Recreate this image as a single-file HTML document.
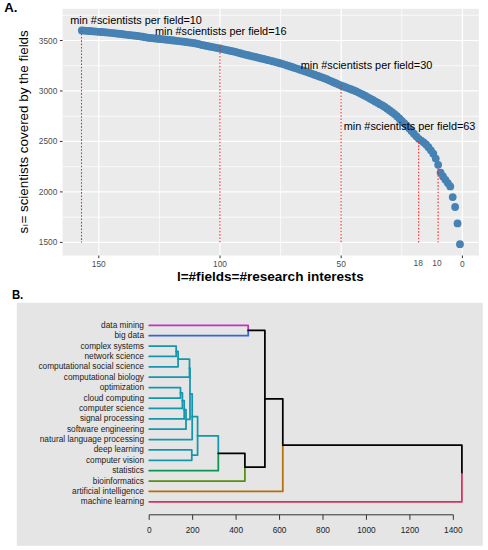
<!DOCTYPE html><html><head><meta charset="utf-8"><style>html,body{margin:0;padding:0;background:#fff;}svg{display:block;}text{font-family:"Liberation Sans",sans-serif;}</style></head><body>
<svg width="488" height="550" viewBox="0 0 488 550">
<rect width="488" height="550" fill="#fff"/>
<rect x="62.6" y="8.8" width="416.29999999999995" height="246.7" fill="#EBEBEB"/>
<line x1="62.6" x2="478.9" y1="15.26" y2="15.26" stroke="#fff" stroke-width="0.75"/>
<line x1="62.6" x2="478.9" y1="65.74" y2="65.74" stroke="#fff" stroke-width="0.75"/>
<line x1="62.6" x2="478.9" y1="116.21" y2="116.21" stroke="#fff" stroke-width="0.75"/>
<line x1="62.6" x2="478.9" y1="166.69" y2="166.69" stroke="#fff" stroke-width="0.75"/>
<line x1="62.6" x2="478.9" y1="217.16" y2="217.16" stroke="#fff" stroke-width="0.75"/>
<line x1="159.40" x2="159.40" y1="8.8" y2="255.5" stroke="#fff" stroke-width="0.75"/>
<line x1="280.60" x2="280.60" y1="8.8" y2="255.5" stroke="#fff" stroke-width="0.75"/>
<line x1="401.80" x2="401.80" y1="8.8" y2="255.5" stroke="#fff" stroke-width="0.75"/>
<line x1="62.6" x2="478.9" y1="40.50" y2="40.50" stroke="#fff" stroke-width="1.2"/>
<line x1="62.6" x2="478.9" y1="90.97" y2="90.97" stroke="#fff" stroke-width="1.2"/>
<line x1="62.6" x2="478.9" y1="141.45" y2="141.45" stroke="#fff" stroke-width="1.2"/>
<line x1="62.6" x2="478.9" y1="191.92" y2="191.92" stroke="#fff" stroke-width="1.2"/>
<line x1="62.6" x2="478.9" y1="242.40" y2="242.40" stroke="#fff" stroke-width="1.2"/>
<line x1="98.80" x2="98.80" y1="8.8" y2="255.5" stroke="#fff" stroke-width="1.2"/>
<line x1="220.00" x2="220.00" y1="8.8" y2="255.5" stroke="#fff" stroke-width="1.2"/>
<line x1="341.20" x2="341.20" y1="8.8" y2="255.5" stroke="#fff" stroke-width="1.2"/>
<line x1="462.40" x2="462.40" y1="8.8" y2="255.5" stroke="#fff" stroke-width="1.2"/>
<g fill="#4682B4">
<circle cx="459.98" cy="244.20" r="3.9"/>
<circle cx="457.55" cy="223.40" r="3.9"/>
<circle cx="455.13" cy="207.00" r="3.9"/>
<circle cx="452.70" cy="197.10" r="3.9"/>
<circle cx="450.28" cy="186.40" r="3.9"/>
<circle cx="447.86" cy="183.10" r="3.9"/>
<circle cx="445.43" cy="179.80" r="3.9"/>
<circle cx="443.01" cy="176.50" r="3.9"/>
<circle cx="440.58" cy="172.60" r="3.9"/>
<circle cx="438.16" cy="164.80" r="3.9"/>
<circle cx="435.74" cy="158.60" r="3.9"/>
<circle cx="433.31" cy="153.77" r="3.9"/>
<circle cx="430.89" cy="150.28" r="3.9"/>
<circle cx="428.46" cy="147.25" r="3.9"/>
<circle cx="426.04" cy="144.49" r="3.9"/>
<circle cx="423.62" cy="142.31" r="3.9"/>
<circle cx="421.19" cy="140.59" r="3.9"/>
<circle cx="418.77" cy="138.86" r="3.9"/>
<circle cx="416.34" cy="136.33" r="3.9"/>
<circle cx="413.92" cy="133.65" r="3.9"/>
<circle cx="411.50" cy="130.97" r="3.9"/>
<circle cx="409.07" cy="128.30" r="3.9"/>
<circle cx="406.65" cy="125.62" r="3.9"/>
<circle cx="404.22" cy="123.07" r="3.9"/>
<circle cx="401.80" cy="120.79" r="3.9"/>
<circle cx="399.38" cy="118.51" r="3.9"/>
<circle cx="396.95" cy="116.23" r="3.9"/>
<circle cx="394.53" cy="114.05" r="3.9"/>
<circle cx="392.10" cy="112.26" r="3.9"/>
<circle cx="389.68" cy="110.46" r="3.9"/>
<circle cx="387.26" cy="108.67" r="3.9"/>
<circle cx="384.83" cy="106.90" r="3.9"/>
<circle cx="382.41" cy="105.52" r="3.9"/>
<circle cx="379.98" cy="104.14" r="3.9"/>
<circle cx="377.56" cy="102.76" r="3.9"/>
<circle cx="375.14" cy="101.38" r="3.9"/>
<circle cx="372.71" cy="100.02" r="3.9"/>
<circle cx="370.29" cy="98.66" r="3.9"/>
<circle cx="367.86" cy="97.30" r="3.9"/>
<circle cx="365.44" cy="95.95" r="3.9"/>
<circle cx="363.02" cy="94.73" r="3.9"/>
<circle cx="360.59" cy="93.54" r="3.9"/>
<circle cx="358.17" cy="92.35" r="3.9"/>
<circle cx="355.74" cy="91.16" r="3.9"/>
<circle cx="353.32" cy="90.16" r="3.9"/>
<circle cx="350.90" cy="89.25" r="3.9"/>
<circle cx="348.47" cy="88.33" r="3.9"/>
<circle cx="346.05" cy="87.41" r="3.9"/>
<circle cx="343.62" cy="86.49" r="3.9"/>
<circle cx="341.20" cy="85.58" r="3.9"/>
<circle cx="338.78" cy="84.53" r="3.9"/>
<circle cx="336.35" cy="83.47" r="3.9"/>
<circle cx="333.93" cy="82.41" r="3.9"/>
<circle cx="331.50" cy="81.35" r="3.9"/>
<circle cx="329.08" cy="80.28" r="3.9"/>
<circle cx="326.66" cy="79.22" r="3.9"/>
<circle cx="324.23" cy="78.22" r="3.9"/>
<circle cx="321.81" cy="77.35" r="3.9"/>
<circle cx="319.38" cy="76.48" r="3.9"/>
<circle cx="316.96" cy="75.61" r="3.9"/>
<circle cx="314.54" cy="74.73" r="3.9"/>
<circle cx="312.11" cy="73.86" r="3.9"/>
<circle cx="309.69" cy="72.99" r="3.9"/>
<circle cx="307.26" cy="72.12" r="3.9"/>
<circle cx="304.84" cy="71.25" r="3.9"/>
<circle cx="302.42" cy="70.45" r="3.9"/>
<circle cx="299.99" cy="69.65" r="3.9"/>
<circle cx="297.57" cy="68.85" r="3.9"/>
<circle cx="295.14" cy="68.05" r="3.9"/>
<circle cx="292.72" cy="67.25" r="3.9"/>
<circle cx="290.30" cy="66.45" r="3.9"/>
<circle cx="287.87" cy="65.65" r="3.9"/>
<circle cx="285.45" cy="64.85" r="3.9"/>
<circle cx="283.02" cy="64.11" r="3.9"/>
<circle cx="280.60" cy="63.38" r="3.9"/>
<circle cx="278.18" cy="62.73" r="3.9"/>
<circle cx="275.75" cy="62.10" r="3.9"/>
<circle cx="273.33" cy="61.47" r="3.9"/>
<circle cx="270.90" cy="60.84" r="3.9"/>
<circle cx="268.48" cy="60.20" r="3.9"/>
<circle cx="266.06" cy="59.57" r="3.9"/>
<circle cx="263.63" cy="58.97" r="3.9"/>
<circle cx="261.21" cy="58.39" r="3.9"/>
<circle cx="258.78" cy="57.81" r="3.9"/>
<circle cx="256.36" cy="57.23" r="3.9"/>
<circle cx="253.94" cy="56.64" r="3.9"/>
<circle cx="251.51" cy="56.06" r="3.9"/>
<circle cx="249.09" cy="55.48" r="3.9"/>
<circle cx="246.66" cy="54.90" r="3.9"/>
<circle cx="244.24" cy="54.29" r="3.9"/>
<circle cx="241.82" cy="53.64" r="3.9"/>
<circle cx="239.39" cy="52.99" r="3.9"/>
<circle cx="236.97" cy="52.33" r="3.9"/>
<circle cx="234.54" cy="51.70" r="3.9"/>
<circle cx="232.12" cy="51.17" r="3.9"/>
<circle cx="229.70" cy="50.63" r="3.9"/>
<circle cx="227.27" cy="50.10" r="3.9"/>
<circle cx="224.85" cy="49.57" r="3.9"/>
<circle cx="222.42" cy="49.03" r="3.9"/>
<circle cx="220.00" cy="48.50" r="3.9"/>
<circle cx="217.58" cy="48.03" r="3.9"/>
<circle cx="215.15" cy="47.56" r="3.9"/>
<circle cx="212.73" cy="47.09" r="3.9"/>
<circle cx="210.30" cy="46.63" r="3.9"/>
<circle cx="207.88" cy="46.16" r="3.9"/>
<circle cx="205.46" cy="45.69" r="3.9"/>
<circle cx="203.03" cy="45.13" r="3.9"/>
<circle cx="200.61" cy="44.55" r="3.9"/>
<circle cx="198.18" cy="43.96" r="3.9"/>
<circle cx="195.76" cy="43.38" r="3.9"/>
<circle cx="193.34" cy="42.98" r="3.9"/>
<circle cx="190.91" cy="42.65" r="3.9"/>
<circle cx="188.49" cy="42.33" r="3.9"/>
<circle cx="186.06" cy="42.01" r="3.9"/>
<circle cx="183.64" cy="41.69" r="3.9"/>
<circle cx="181.22" cy="41.36" r="3.9"/>
<circle cx="178.79" cy="41.06" r="3.9"/>
<circle cx="176.37" cy="40.79" r="3.9"/>
<circle cx="173.94" cy="40.51" r="3.9"/>
<circle cx="171.52" cy="40.24" r="3.9"/>
<circle cx="169.10" cy="39.96" r="3.9"/>
<circle cx="166.67" cy="39.69" r="3.9"/>
<circle cx="164.25" cy="39.42" r="3.9"/>
<circle cx="161.82" cy="39.18" r="3.9"/>
<circle cx="159.40" cy="38.94" r="3.9"/>
<circle cx="156.98" cy="38.70" r="3.9"/>
<circle cx="154.55" cy="38.46" r="3.9"/>
<circle cx="152.13" cy="38.21" r="3.9"/>
<circle cx="149.70" cy="37.95" r="3.9"/>
<circle cx="147.28" cy="37.54" r="3.9"/>
<circle cx="144.86" cy="37.13" r="3.9"/>
<circle cx="142.43" cy="36.71" r="3.9"/>
<circle cx="140.01" cy="36.30" r="3.9"/>
<circle cx="137.58" cy="36.01" r="3.9"/>
<circle cx="135.16" cy="35.72" r="3.9"/>
<circle cx="132.74" cy="35.43" r="3.9"/>
<circle cx="130.31" cy="35.14" r="3.9"/>
<circle cx="127.89" cy="34.85" r="3.9"/>
<circle cx="125.46" cy="34.56" r="3.9"/>
<circle cx="123.04" cy="34.26" r="3.9"/>
<circle cx="120.62" cy="33.97" r="3.9"/>
<circle cx="118.19" cy="33.68" r="3.9"/>
<circle cx="115.77" cy="33.39" r="3.9"/>
<circle cx="113.34" cy="33.10" r="3.9"/>
<circle cx="110.92" cy="32.81" r="3.9"/>
<circle cx="108.50" cy="32.58" r="3.9"/>
<circle cx="106.07" cy="32.39" r="3.9"/>
<circle cx="103.65" cy="32.19" r="3.9"/>
<circle cx="101.22" cy="32.00" r="3.9"/>
<circle cx="98.80" cy="31.80" r="3.9"/>
<circle cx="96.38" cy="31.61" r="3.9"/>
<circle cx="93.95" cy="31.41" r="3.9"/>
<circle cx="91.53" cy="31.22" r="3.9"/>
<circle cx="89.10" cy="31.02" r="3.9"/>
<circle cx="86.68" cy="30.82" r="3.9"/>
<circle cx="84.26" cy="30.62" r="3.9"/>
<circle cx="81.83" cy="30.43" r="3.9"/>
</g>
<line x1="81.5" x2="81.5" y1="30.4" y2="242.40" stroke="#FF2020" stroke-width="1.05" stroke-dasharray="1.6 1.7"/>
<line x1="219.9" x2="219.9" y1="46.0" y2="242.40" stroke="#FF2020" stroke-width="1.05" stroke-dasharray="1.6 1.7"/>
<line x1="341.1" x2="341.1" y1="85.5" y2="242.40" stroke="#FF2020" stroke-width="1.05" stroke-dasharray="1.6 1.7"/>
<line x1="418.7" x2="418.7" y1="142.0" y2="242.40" stroke="#FF2020" stroke-width="1.05" stroke-dasharray="1.6 1.7"/>
<line x1="438.1" x2="438.1" y1="168.6" y2="242.40" stroke="#FF2020" stroke-width="1.05" stroke-dasharray="1.6 1.7"/>
<text x="136.1" y="23.8" font-size="10.9" text-anchor="middle" fill="#000">min #scientists per field=10</text>
<text x="220.8" y="34.6" font-size="10.9" text-anchor="middle" fill="#000">min #scientists per field=16</text>
<text x="366.5" y="69.1" font-size="10.9" text-anchor="middle" fill="#000">min #scientists per field=30</text>
<text x="409.6" y="130.0" font-size="10.9" text-anchor="middle" fill="#000">min #scientists per field=63</text>
<line x1="59.9" x2="62.6" y1="40.50" y2="40.50" stroke="#333" stroke-width="1"/>
<text x="57.3" y="43.50" font-size="8.3" text-anchor="end" fill="#4D4D4D">3500</text>
<line x1="59.9" x2="62.6" y1="90.97" y2="90.97" stroke="#333" stroke-width="1"/>
<text x="57.3" y="93.97" font-size="8.3" text-anchor="end" fill="#4D4D4D">3000</text>
<line x1="59.9" x2="62.6" y1="141.45" y2="141.45" stroke="#333" stroke-width="1"/>
<text x="57.3" y="144.45" font-size="8.3" text-anchor="end" fill="#4D4D4D">2500</text>
<line x1="59.9" x2="62.6" y1="191.92" y2="191.92" stroke="#333" stroke-width="1"/>
<text x="57.3" y="194.92" font-size="8.3" text-anchor="end" fill="#4D4D4D">2000</text>
<line x1="59.9" x2="62.6" y1="242.40" y2="242.40" stroke="#333" stroke-width="1"/>
<text x="57.3" y="245.40" font-size="8.3" text-anchor="end" fill="#4D4D4D">1500</text>
<line x1="98.80" x2="98.80" y1="255.5" y2="258.2" stroke="#333" stroke-width="1"/>
<text x="98.80" y="267.0" font-size="8.4" text-anchor="middle" fill="#4D4D4D">150</text>
<line x1="220.00" x2="220.00" y1="255.5" y2="258.2" stroke="#333" stroke-width="1"/>
<text x="220.00" y="267.0" font-size="8.4" text-anchor="middle" fill="#4D4D4D">100</text>
<line x1="341.20" x2="341.20" y1="255.5" y2="258.2" stroke="#333" stroke-width="1"/>
<text x="341.20" y="267.0" font-size="8.4" text-anchor="middle" fill="#4D4D4D">50</text>
<line x1="462.40" x2="462.40" y1="255.5" y2="258.2" stroke="#333" stroke-width="1"/>
<text x="462.40" y="267.0" font-size="8.4" text-anchor="middle" fill="#4D4D4D">0</text>
<text x="418.2" y="266.2" font-size="8.4" text-anchor="middle" fill="#4D4D4D">18</text>
<text x="436.9" y="266.2" font-size="8.4" text-anchor="middle" fill="#4D4D4D">10</text>
<text x="270.3" y="281.2" font-size="13.55" font-weight="bold" text-anchor="middle" fill="#000">l=#fields=#research interests</text>
<text transform="translate(27.7,233.6) rotate(-90)" font-size="13.42" fill="#000">s</text>
<text transform="translate(28.1,226.0) rotate(-90)" font-size="7.5" fill="#000">l</text>
<text transform="translate(27.7,223.6) rotate(-90)" font-size="13.42" fill="#000">= scientists covered by the fields</text>
<text x="4.3" y="11.9" font-size="13.2" font-weight="bold" fill="#000">A.</text>
<text x="11.9" y="299.3" font-size="13.5" font-weight="bold" fill="#000" textLength="11.4" lengthAdjust="spacingAndGlyphs">B.</text>
<rect x="16.8" y="302.8" width="466.0" height="242.99999999999994" fill="#E5E5E5"/>
<text x="144.0" y="327.80" font-size="8.3" text-anchor="end" fill="#222">data mining</text>
<text x="144.0" y="338.19" font-size="8.3" text-anchor="end" fill="#222">big data</text>
<text x="144.0" y="348.57" font-size="8.3" text-anchor="end" fill="#222">complex systems</text>
<text x="144.0" y="358.96" font-size="8.3" text-anchor="end" fill="#222">network science</text>
<text x="144.0" y="369.34" font-size="8.3" text-anchor="end" fill="#222">computational social science</text>
<text x="144.0" y="379.73" font-size="8.3" text-anchor="end" fill="#222">computational biology</text>
<text x="144.0" y="390.11" font-size="8.3" text-anchor="end" fill="#222">optimization</text>
<text x="144.0" y="400.50" font-size="8.3" text-anchor="end" fill="#222">cloud computing</text>
<text x="144.0" y="410.88" font-size="8.3" text-anchor="end" fill="#222">computer science</text>
<text x="144.0" y="421.26" font-size="8.3" text-anchor="end" fill="#222">signal processing</text>
<text x="144.0" y="431.65" font-size="8.3" text-anchor="end" fill="#222">software engineering</text>
<text x="144.0" y="442.04" font-size="8.3" text-anchor="end" fill="#222">natural language processing</text>
<text x="144.0" y="452.42" font-size="8.3" text-anchor="end" fill="#222">deep learning</text>
<text x="144.0" y="462.81" font-size="8.3" text-anchor="end" fill="#222">computer vision</text>
<text x="144.0" y="473.19" font-size="8.3" text-anchor="end" fill="#222">statistics</text>
<text x="144.0" y="483.58" font-size="8.3" text-anchor="end" fill="#222">bioinformatics</text>
<text x="144.0" y="493.96" font-size="8.3" text-anchor="end" fill="#222">artificial intelligence</text>
<text x="144.0" y="504.35" font-size="8.3" text-anchor="end" fill="#222">machine learning</text>
<path d="M248.20,330.49V325.30H149.20" fill="none" stroke="#C232C2" stroke-width="1.75" stroke-linecap="round" stroke-linejoin="round"/>
<path d="M248.20,330.49V335.69H149.20" fill="none" stroke="#3565DA" stroke-width="1.75" stroke-linecap="round" stroke-linejoin="round"/>
<path d="M176.20,351.26V346.07H149.20" fill="none" stroke="#1396AE" stroke-width="1.75" stroke-linecap="round" stroke-linejoin="round"/>
<path d="M176.20,351.26V356.46H149.20" fill="none" stroke="#1396AE" stroke-width="1.75" stroke-linecap="round" stroke-linejoin="round"/>
<path d="M178.10,359.05V351.26H176.20" fill="none" stroke="#1396AE" stroke-width="1.75" stroke-linecap="round" stroke-linejoin="round"/>
<path d="M178.10,359.05V366.84H149.20" fill="none" stroke="#1396AE" stroke-width="1.75" stroke-linecap="round" stroke-linejoin="round"/>
<path d="M189.50,368.14V359.05H178.10" fill="none" stroke="#1396AE" stroke-width="1.75" stroke-linecap="round" stroke-linejoin="round"/>
<path d="M189.50,368.14V377.23H149.20" fill="none" stroke="#1396AE" stroke-width="1.75" stroke-linecap="round" stroke-linejoin="round"/>
<path d="M180.50,392.80V387.61H149.20" fill="none" stroke="#1396AE" stroke-width="1.75" stroke-linecap="round" stroke-linejoin="round"/>
<path d="M180.50,392.80V398.00H149.20" fill="none" stroke="#1396AE" stroke-width="1.75" stroke-linecap="round" stroke-linejoin="round"/>
<path d="M182.40,400.59V392.80H180.50" fill="none" stroke="#1396AE" stroke-width="1.75" stroke-linecap="round" stroke-linejoin="round"/>
<path d="M182.40,400.59V408.38H149.20" fill="none" stroke="#1396AE" stroke-width="1.75" stroke-linecap="round" stroke-linejoin="round"/>
<path d="M184.20,409.68V400.59H182.40" fill="none" stroke="#1396AE" stroke-width="1.75" stroke-linecap="round" stroke-linejoin="round"/>
<path d="M184.20,409.68V418.76H149.20" fill="none" stroke="#1396AE" stroke-width="1.75" stroke-linecap="round" stroke-linejoin="round"/>
<path d="M186.00,419.41V409.68H184.20" fill="none" stroke="#1396AE" stroke-width="1.75" stroke-linecap="round" stroke-linejoin="round"/>
<path d="M186.00,419.41V429.15H149.20" fill="none" stroke="#1396AE" stroke-width="1.75" stroke-linecap="round" stroke-linejoin="round"/>
<path d="M190.00,393.78V368.14H189.50" fill="none" stroke="#1396AE" stroke-width="1.75" stroke-linecap="round" stroke-linejoin="round"/>
<path d="M190.00,393.78V419.41H186.00" fill="none" stroke="#1396AE" stroke-width="1.75" stroke-linecap="round" stroke-linejoin="round"/>
<path d="M192.20,416.66V393.78H190.00" fill="none" stroke="#1396AE" stroke-width="1.75" stroke-linecap="round" stroke-linejoin="round"/>
<path d="M192.20,416.66V439.54H149.20" fill="none" stroke="#1396AE" stroke-width="1.75" stroke-linecap="round" stroke-linejoin="round"/>
<path d="M191.80,455.11V449.92H149.20" fill="none" stroke="#1396AE" stroke-width="1.75" stroke-linecap="round" stroke-linejoin="round"/>
<path d="M191.80,455.11V460.31H149.20" fill="none" stroke="#1396AE" stroke-width="1.75" stroke-linecap="round" stroke-linejoin="round"/>
<path d="M197.60,435.88V416.66H192.20" fill="none" stroke="#1396AE" stroke-width="1.75" stroke-linecap="round" stroke-linejoin="round"/>
<path d="M197.60,435.88V455.11H191.80" fill="none" stroke="#1396AE" stroke-width="1.75" stroke-linecap="round" stroke-linejoin="round"/>
<path d="M218.30,453.29V435.88H197.60" fill="none" stroke="#1396AE" stroke-width="1.75" stroke-linecap="round" stroke-linejoin="round"/>
<path d="M218.30,453.29V470.69H149.20" fill="none" stroke="#0C9652" stroke-width="1.75" stroke-linecap="round" stroke-linejoin="round"/>
<path d="M244.90,467.18V453.29H218.30" fill="none" stroke="#000" stroke-width="1.75" stroke-linecap="round" stroke-linejoin="round"/>
<path d="M244.90,467.18V481.08H149.20" fill="none" stroke="#55900C" stroke-width="1.75" stroke-linecap="round" stroke-linejoin="round"/>
<path d="M264.90,398.84V330.49H248.20" fill="none" stroke="#000" stroke-width="1.75" stroke-linecap="round" stroke-linejoin="round"/>
<path d="M264.90,398.84V467.18H244.90" fill="none" stroke="#000" stroke-width="1.75" stroke-linecap="round" stroke-linejoin="round"/>
<path d="M282.80,445.15V398.84H264.90" fill="none" stroke="#000" stroke-width="1.75" stroke-linecap="round" stroke-linejoin="round"/>
<path d="M282.80,445.15V491.46H149.20" fill="none" stroke="#B4700A" stroke-width="1.75" stroke-linecap="round" stroke-linejoin="round"/>
<path d="M461.90,473.50V445.15H282.80" fill="none" stroke="#000" stroke-width="1.75" stroke-linecap="round" stroke-linejoin="round"/>
<path d="M461.90,473.50V501.85H149.20" fill="none" stroke="#D3335F" stroke-width="1.75" stroke-linecap="round" stroke-linejoin="round"/>
<path d="M149.20,514.8H453.35" stroke="#333" stroke-width="1" fill="none"/>
<line x1="149.20" x2="149.20" y1="514.8" y2="519.8" stroke="#333" stroke-width="1"/>
<text x="149.20" y="533.4" font-size="8.3" text-anchor="middle" fill="#222">0</text>
<line x1="192.65" x2="192.65" y1="514.8" y2="519.8" stroke="#333" stroke-width="1"/>
<text x="192.65" y="533.4" font-size="8.3" text-anchor="middle" fill="#222">200</text>
<line x1="236.10" x2="236.10" y1="514.8" y2="519.8" stroke="#333" stroke-width="1"/>
<text x="236.10" y="533.4" font-size="8.3" text-anchor="middle" fill="#222">400</text>
<line x1="279.55" x2="279.55" y1="514.8" y2="519.8" stroke="#333" stroke-width="1"/>
<text x="279.55" y="533.4" font-size="8.3" text-anchor="middle" fill="#222">600</text>
<line x1="323.00" x2="323.00" y1="514.8" y2="519.8" stroke="#333" stroke-width="1"/>
<text x="323.00" y="533.4" font-size="8.3" text-anchor="middle" fill="#222">800</text>
<line x1="366.45" x2="366.45" y1="514.8" y2="519.8" stroke="#333" stroke-width="1"/>
<text x="366.45" y="533.4" font-size="8.3" text-anchor="middle" fill="#222">1000</text>
<line x1="409.90" x2="409.90" y1="514.8" y2="519.8" stroke="#333" stroke-width="1"/>
<text x="409.90" y="533.4" font-size="8.3" text-anchor="middle" fill="#222">1200</text>
<line x1="453.35" x2="453.35" y1="514.8" y2="519.8" stroke="#333" stroke-width="1"/>
<text x="453.35" y="533.4" font-size="8.3" text-anchor="middle" fill="#222">1400</text>
</svg></body></html>
